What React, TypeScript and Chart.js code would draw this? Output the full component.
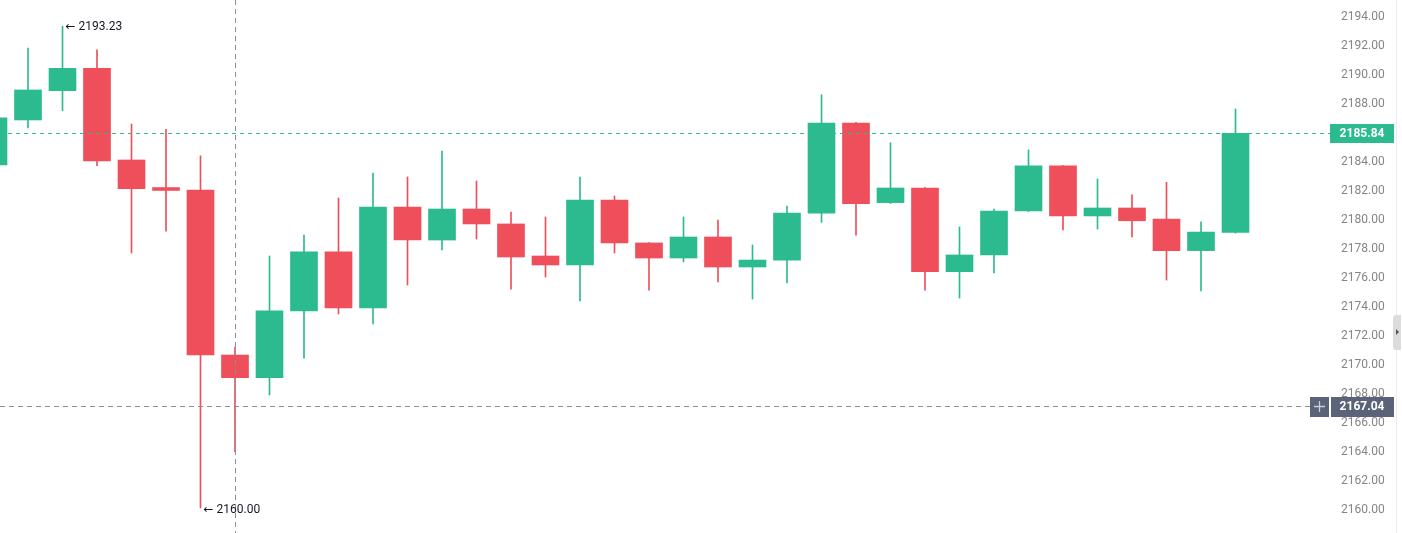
import React, { useEffect, useRef } from "react";
import { Chart, registerables } from "chart.js";

Chart.register(...registerables);

// ---- Data ----
const candleIndex = [0, 1, 2, 3, 4, 5, 6, 7, 8, 9, 10, 11, 12, 13, 14, 15, 16, 17, 18, 19, 20, 21, 22, 23, 24, 25, 26, 27, 28, 29, 30, 31, 32, 33, 34, 35, 36];
const opens = [2183.66, 2186.76, 2188.78, 2190.32, 2184.0, 2182.1, 2181.93, 2170.55, 2168.99, 2173.59, 2177.66, 2173.79, 2180.76, 2178.48, 2180.62, 2179.59, 2177.38, 2176.76, 2181.24, 2178.28, 2177.24, 2178.69, 2176.62, 2177.1, 2180.34, 2186.55, 2181.06, 2182.07, 2176.3, 2177.45, 2180.48, 2183.59, 2180.14, 2180.69, 2179.93, 2177.75, 2179.0];
const highs = [2188.0, 2191.72, 2193.23, 2191.59, 2186.48, 2186.12, 2184.28, 2171.1, 2177.38, 2178.83, 2181.38, 2183.1, 2182.83, 2184.62, 2182.55, 2180.41, 2180.07, 2182.83, 2181.52, 2178.3, 2180.07, 2179.86, 2178.14, 2180.83, 2188.5, 2186.6, 2185.19, 2182.1, 2179.38, 2180.62, 2184.69, 2183.62, 2182.69, 2181.59, 2182.46, 2179.74, 2187.52];
const lows = [2183.0, 2186.21, 2187.4, 2183.61, 2177.59, 2179.1, 2160.0, 2163.88, 2167.79, 2170.34, 2173.38, 2172.69, 2175.38, 2177.79, 2178.55, 2175.1, 2175.93, 2174.28, 2177.59, 2175.03, 2176.97, 2175.59, 2174.41, 2175.52, 2179.7, 2178.81, 2181.0, 2175.03, 2174.48, 2176.21, 2180.45, 2179.17, 2179.24, 2178.69, 2175.72, 2174.97, 2178.95];
const closes = [2186.9, 2188.83, 2190.32, 2183.93, 2182.02, 2181.9, 2170.55, 2168.99, 2173.59, 2177.66, 2173.79, 2180.76, 2178.48, 2180.62, 2179.59, 2177.31, 2176.76, 2181.24, 2178.28, 2177.24, 2178.69, 2176.62, 2177.1, 2180.34, 2186.55, 2180.99, 2182.07, 2176.3, 2177.45, 2180.48, 2183.59, 2180.14, 2180.69, 2179.81, 2177.75, 2179.03, 2185.84];
const yTickValues = [2160, 2162, 2164, 2166, 2168, 2170, 2172, 2174, 2176, 2178, 2180, 2182, 2184, 2186, 2188, 2190, 2192, 2194];
const crosshairIndex = 7;
const crosshairValue = 2167.04;

// ---- Styles / layout ----
const GREEN = "#2cbb8f";
const RED = "#ef4f5a";
const SLATE = "#5a6377";
const Y_MIN = 2158.276;
const Y_MAX = 2195.034;
const X_MIN = 0.1884;
const X_MAX = 38.739;
const AXIS_W = 72;

const colorFor = (i: number) => (closes[i] >= opens[i] ? GREEN : RED);

const overlayPlugin = {
  id: "overlay",
  afterDatasetsDraw(chart: any) {
    const { ctx, chartArea: ca, scales } = chart;
    const x = scales.x;
    const y = scales.y;
    ctx.save();
    ctx.beginPath();
    ctx.rect(ca.left, ca.top, ca.right - ca.left, ca.bottom - ca.top);
    ctx.clip();

    // last price line
    const last = closes[closes.length - 1];
    const yl = Math.floor(y.getPixelForValue(last)) + 0.5;
    ctx.strokeStyle = GREEN;
    ctx.lineWidth = 1;
    ctx.setLineDash([4, 4]);
    ctx.beginPath();
    ctx.moveTo(ca.left, yl);
    ctx.lineTo(ca.right, yl);
    ctx.stroke();

    // crosshair
    ctx.strokeStyle = "#8a8f99";
    ctx.setLineDash([5, 4]);
    const cx = Math.floor(x.getPixelForValue(crosshairIndex)) + 0.5;
    ctx.beginPath();
    ctx.moveTo(cx, ca.top);
    ctx.lineTo(cx, ca.bottom);
    ctx.stroke();
    const cy = Math.floor(y.getPixelForValue(crosshairValue)) + 1.5;
    ctx.beginPath();
    ctx.moveTo(ca.left, cy);
    ctx.lineTo(ca.right - 20, cy);
    ctx.stroke();
    ctx.setLineDash([]);

    // high / low annotations
    let hi = 0;
    let lo = 0;
    for (let i = 1; i < highs.length; i++) {
      if (highs[i] > highs[hi]) hi = i;
      if (lows[i] < lows[lo]) lo = i;
    }
    ctx.fillStyle = "#131722";
    ctx.font = "12px Roboto, 'DejaVu Sans', sans-serif";
    ctx.textBaseline = "middle";
    ctx.textAlign = "left";
    ctx.fillText("\u2190 " + highs[hi].toFixed(2), x.getPixelForValue(hi) + 3, y.getPixelForValue(highs[hi]) + 0.5);
    ctx.fillText("\u2190 " + lows[lo].toFixed(2), x.getPixelForValue(lo) + 3, y.getPixelForValue(lows[lo]) + 1.5);
    ctx.restore();
  },
  afterDraw(chart: any) {
    const { ctx, chartArea: ca, scales, width, height } = chart;
    const y = scales.y;
    ctx.save();
    // right edge strip
    ctx.fillStyle = "#ececec";
    ctx.fillRect(width - 6, 0, 1, height);
    // handle
    ctx.fillStyle = "#dcdcdc";
    ctx.beginPath();
    ctx.moveTo(width - 9, 318);
    ctx.arcTo(width - 9, 315, width - 6, 315, 3);
    ctx.lineTo(width - 1, 315);
    ctx.lineTo(width - 1, 350);
    ctx.lineTo(width - 6, 350);
    ctx.arcTo(width - 9, 350, width - 9, 347, 3);
    ctx.closePath();
    ctx.fill();
    ctx.fillStyle = "#555";
    ctx.beginPath();
    ctx.moveTo(width - 6, 329);
    ctx.lineTo(width - 3, 332);
    ctx.lineTo(width - 6, 335);
    ctx.closePath();
    ctx.fill();

    ctx.font = "bold 12px Roboto, sans-serif";
    ctx.textAlign = "center";
    ctx.textBaseline = "middle";

    // last price label
    const last = closes[closes.length - 1];
    const yl = Math.floor(y.getPixelForValue(last)) + 0.5;
    ctx.fillStyle = GREEN;
    ctx.fillRect(ca.right, Math.round(yl - 9.5), 64, 19);
    ctx.fillStyle = "#ffffff";
    ctx.fillText(last.toFixed(2), ca.right + 32, yl + 0.5);

    // crosshair label
    const cy = Math.floor(y.getPixelForValue(crosshairValue)) + 1.5;
    const top = Math.round(cy - 10);
    ctx.fillStyle = SLATE;
    ctx.fillRect(ca.right + 1, top, 63, 20);
    ctx.fillRect(ca.right - 20, top, 19, 20);
    ctx.fillStyle = "#ffffff";
    ctx.fillText(crosshairValue.toFixed(2), ca.right + 32, cy + 0.5);
    ctx.strokeStyle = "#c9ced8";
    ctx.lineWidth = 1.3;
    ctx.beginPath();
    ctx.moveTo(ca.right - 16, cy);
    ctx.lineTo(ca.right - 5, cy);
    ctx.moveTo(ca.right - 10.5, cy - 5.5);
    ctx.lineTo(ca.right - 10.5, cy + 5.5);
    ctx.stroke();
    ctx.restore();
  },
};

export default function App() {
  const ref = useRef<HTMLCanvasElement | null>(null);
  useEffect(() => {
    document.body.style.margin = "0";
    const canvas = ref.current;
    if (!canvas) return;
    const chart = new Chart(canvas, {
      type: "bar",
      data: {
        datasets: [
          {
            label: "body",
            data: candleIndex.map((i) => ({ x: i, y: [opens[i], closes[i]] })) as any,
            backgroundColor: candleIndex.map(colorFor),
            borderWidth: 0,
            borderSkipped: false,
            barThickness: 27,
            minBarLength: 2,
            grouped: false,
          } as any,
          {
            label: "wick",
            data: candleIndex.map((i) => ({ x: i, y: [lows[i], highs[i]] })) as any,
            backgroundColor: candleIndex.map(colorFor),
            borderWidth: 0,
            borderSkipped: false,
            barThickness: 1,
            grouped: false,
          } as any,
        ],
      },
      options: {
        animation: false,
        responsive: false,
        maintainAspectRatio: false,
        layout: { padding: 0 },
        plugins: { legend: { display: false }, tooltip: { enabled: false } },
        scales: {
          x: {
            type: "linear",
            min: X_MIN,
            max: X_MAX,
            offset: false,
            display: false,
            grid: { display: false, offset: false },
          },
          y: {
            position: "right",
            min: Y_MIN,
            max: Y_MAX,
            grid: { display: false, drawTicks: false },
            border: { display: false },
            ticks: {
              padding: 11,
              labelOffset: 2,
              color: "#858585",
              autoSkip: false,
              font: { family: "Roboto", size: 12 },
              callback: (v: any) => Number(v).toFixed(2),
            },
            afterBuildTicks: (s: any) => {
              s.ticks = yTickValues.map((v) => ({ value: v }));
            },
            afterFit: (s: any) => {
              s.width = AXIS_W;
              s.paddingTop = 0;
              s.paddingBottom = 0;
            },
          },
        },
      } as any,
      plugins: [overlayPlugin],
    });
    return () => chart.destroy();
  }, []);
  return <canvas ref={ref} width={1402} height={533} style={{ display: "block" }} />;
}
